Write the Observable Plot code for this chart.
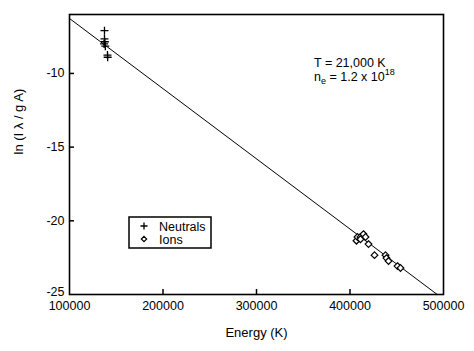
<!DOCTYPE html>
<html>
<head>
<meta charset="utf-8">
<script src="https://cdn.jsdelivr.net/npm/d3@7"></script>
<script src="https://cdn.jsdelivr.net/npm/@observablehq/plot@0.6"></script>
<style>
  html, body { margin: 0; padding: 0; background: white; }
  #chart svg { display: block; }
</style>
</head>
<body>
<div id="chart"></div>
<script>
// Neutral lines (energy in K, ln(I λ / g A))
const neutralEnergy = [137400, 137400, 137800, 137000, 138300, 140600, 140800];
const neutralLn     = [-7.1,   -7.65,  -7.85,  -8.0,   -8.15,  -8.75,  -8.9];

// Ion lines
const ionEnergy = [406900, 408000, 411200, 414400, 416600, 411200, 419800, 426200, 438000, 439000, 441200, 450800, 454000];
const ionLn     = [-21.35, -21.1,  -21.1,  -20.9,  -21.1,  -21.25, -21.58, -22.33, -22.33, -22.53, -22.73, -23.07, -23.2];

// Fitted Boltzmann line (T = 21,000 K), read at its two ends
const fitEnergy = [100000, 493300];
const fitLn     = [-6.27, -25.0];

// Axes
const xDomain = [100000, 500000];
const yDomain = [-25, -6];
const xTickLabels = [100000, 200000, 300000, 400000, 500000];
const yTickLabels = [-25, -20, -15, -10];
const xInnerTicks = [200000, 300000, 400000];
const yInnerTicks = [-20, -15, -10];

const xLabel = "Energy (K)";
const yLabel = "ln (I λ / g A)";
const tempText = "T = 21,000 K";
const legendNames = ["Neutrals", "Ions"];

const neutrals = neutralEnergy.map((e, i) => ({e, v: neutralLn[i]}));
const ions = ionEnergy.map((e, i) => ({e, v: ionLn[i]}));
const fit = fitEnergy.map((e, i) => ({e, v: fitLn[i]}));

const W = 474, H = 351;
const mL = 69, mR = 31, mT = 14, mB = 57;
const plotW = W - mL - mR, plotH = H - mT - mB;
const font = "'Liberation Sans', Arial, Helvetica, sans-serif";
const yMin = yDomain[0];

const svg = Plot.plot({
  width: W, height: H,
  marginLeft: mL, marginRight: mR, marginTop: mT, marginBottom: mB,
  style: {fontFamily: font, fontSize: "12.5px", background: "white", color: "black"},
  x: {domain: xDomain},
  y: {domain: yDomain},
  marks: [
    Plot.axisX(xTickLabels, {tickSize: 0, tickPadding: 7, tickFormat: d => String(d), label: null, fontSize: 12.5}),
    Plot.axisY(yTickLabels.filter(d => d !== yMin), {tickSize: 0, tickPadding: 5, tickFormat: d => String(d), label: null, fontSize: 12.5}),
    Plot.axisY(yTickLabels.filter(d => d === yMin), {tickSize: 0, tickPadding: 5, dy: -3, tickFormat: d => String(d), label: null, fontSize: 12.5}),
    Plot.tickX(xInnerTicks, {x: d => d, insetTop: plotH - 5, stroke: "black", strokeWidth: 1.5}),
    Plot.tickY(yInnerTicks, {y: d => d, insetRight: plotW - 5, stroke: "black", strokeWidth: 1.5}),
    Plot.line(fit, {x: "e", y: "v", stroke: "black", strokeWidth: 1, clip: true}),
    Plot.dot(neutrals, {x: "e", y: "v", symbol: "plus", r: 2.7, stroke: "black", strokeWidth: 1.3}),
    Plot.dot(ions, {x: "e", y: "v", symbol: "diamond2", r: 3, stroke: "black", fill: "white", strokeWidth: 1.2}),
    Plot.frame({stroke: "black", strokeWidth: 1.6}),
    Plot.text([xLabel], {frameAnchor: "bottom", dy: 42, fontSize: 13, text: d => d}),
    Plot.text([yLabel], {frameAnchor: "left", dx: -51, rotate: -90, fontSize: 13, text: d => d})
  ]
});
document.getElementById("chart").appendChild(svg);

// Annotation with subscript / superscript
const s = d3.select(svg);
const ann = s.append("g").attr("font-family", font).attr("font-size", 12.5)
  .attr("fill", "black").attr("text-anchor", "start");
ann.append("text").attr("x", 314).attr("y", 67).text(tempText);
const t2 = ann.append("text").attr("x", 314).attr("y", 81);
t2.append("tspan").text("n");
t2.append("tspan").attr("font-size", 9).attr("dy", 3).text("e");
t2.append("tspan").attr("dy", -3).text(" = 1.2 x 10");
t2.append("tspan").attr("font-size", 9).attr("dy", -6).text("18");

// Legend box
const lg = s.append("g").attr("font-family", font).attr("font-size", 12.5).attr("text-anchor", "start");
lg.append("rect").attr("x", 129).attr("y", 217).attr("width", 82).attr("height", 31)
  .attr("fill", "white").attr("stroke", "black").attr("stroke-width", 1.5);
const plusPath = d3.symbol(d3.symbolPlus, Math.PI * 2.4 * 2.4)();
const diaPath = d3.symbol(d3.symbolDiamond2, Math.PI * 2.4 * 2.4)();
lg.append("path").attr("d", plusPath).attr("transform", "translate(144,226)")
  .attr("fill", "none").attr("stroke", "black").attr("stroke-width", 1.3);
lg.append("path").attr("d", diaPath).attr("transform", "translate(144,239)")
  .attr("fill", "none").attr("stroke", "black").attr("stroke-width", 1.2);
lg.append("text").attr("x", 159).attr("y", 230.5).text(legendNames[0]);
lg.append("text").attr("x", 159).attr("y", 243.5).text(legendNames[1]);
</script>
</body>
</html>
